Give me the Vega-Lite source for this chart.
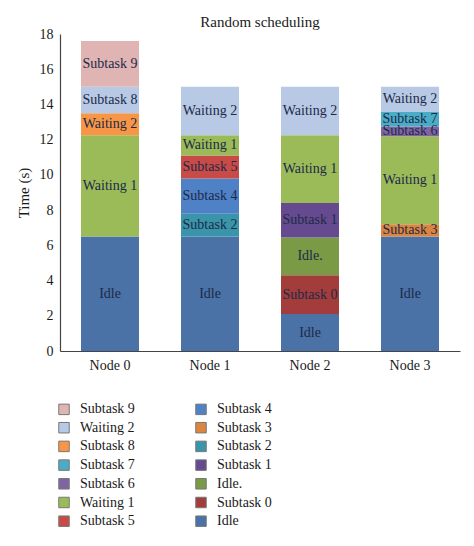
{
  "$schema": "https://vega.github.io/schema/vega-lite/v6.json",
  "autosize": {"type": "none"},
  "padding": {"left": 60, "top": 34, "right": 14, "bottom": 195},
  "width": 400,
  "height": 317,
  "background": "white",
  "title": {"text": "Random scheduling", "font": "Liberation Serif", "fontSize": 15, "fontWeight": "normal", "color": "#1a1a1a", "anchor": "middle", "offset": -3},
  "config": {
    "view": {"stroke": null},
    "font": "Liberation Serif",
    "axisY": {"labelOverlap": false, "labelFlush": false, "grid": false, "ticks": false, "labelPadding": 7, "labelFont": "Liberation Serif", "labelFontSize": 14, "labelColor": "#1a1a1a", "titleFont": "Liberation Serif", "titleFontSize": 15, "titleFontWeight": "normal", "titleColor": "#1a1a1a", "titlePadding": 8, "domainColor": "#444", "domainWidth": 1.2}
  },
  "data": {
    "values": [
      {"node": "Node 0", "series": "Idle", "label": "Idle", "value": 6.5, "order": 1},
      {"node": "Node 0", "series": "Waiting 1", "label": "Waiting 1", "value": 5.75, "order": 2},
      {"node": "Node 0", "series": "Subtask 8", "label": "Waiting 2", "value": 1.25, "order": 3},
      {"node": "Node 0", "series": "Waiting 2", "label": "Subtask 8", "value": 1.5, "order": 4},
      {"node": "Node 0", "series": "Subtask 9", "label": "Subtask 9", "value": 2.6, "order": 5},
      {"node": "Node 1", "series": "Idle", "label": "Idle", "value": 6.5, "order": 1},
      {"node": "Node 1", "series": "Subtask 2", "label": "Subtask 2", "value": 1.3, "order": 2},
      {"node": "Node 1", "series": "Subtask 4", "label": "Subtask 4", "value": 2.0, "order": 3},
      {"node": "Node 1", "series": "Subtask 5", "label": "Subtask 5", "value": 1.3, "order": 4},
      {"node": "Node 1", "series": "Waiting 1", "label": "Waiting 1", "value": 1.15, "order": 5},
      {"node": "Node 1", "series": "Waiting 2", "label": "Waiting 2", "value": 2.75, "order": 6},
      {"node": "Node 2", "series": "Idle", "label": "Idle", "value": 2.1, "order": 1},
      {"node": "Node 2", "series": "Subtask 0", "label": "Subtask 0", "value": 2.2, "order": 2},
      {"node": "Node 2", "series": "Idle.", "label": "Idle.", "value": 2.15, "order": 3},
      {"node": "Node 2", "series": "Subtask 1", "label": "Subtask 1", "value": 1.95, "order": 4},
      {"node": "Node 2", "series": "Waiting 1", "label": "Waiting 1", "value": 3.85, "order": 5},
      {"node": "Node 2", "series": "Waiting 2", "label": "Waiting 2", "value": 2.75, "order": 6},
      {"node": "Node 3", "series": "Idle", "label": "Idle", "value": 6.5, "order": 1},
      {"node": "Node 3", "series": "Subtask 3", "label": "Subtask 3", "value": 0.7, "order": 2},
      {"node": "Node 3", "series": "Waiting 1", "label": "Waiting 1", "value": 5.0, "order": 3},
      {"node": "Node 3", "series": "Subtask 6", "label": "Subtask 6", "value": 0.55, "order": 4},
      {"node": "Node 3", "series": "Subtask 7", "label": "Subtask 7", "value": 0.85, "order": 5},
      {"node": "Node 3", "series": "Waiting 2", "label": "Waiting 2", "value": 1.4, "order": 6}
    ]
  },
  "transform": [
    {"stack": "value", "groupby": ["node"], "sort": [{"field": "order", "order": "ascending"}], "as": ["y0", "y1"]},
    {"calculate": "(datum.y0 + datum.y1) / 2", "as": "mid"}
  ],
  "encoding": {
    "x": {
      "field": "node", "type": "nominal", "sort": null,
      "scale": {"paddingInner": 0.42, "paddingOuter": 0.21},
      "axis": {"title": null, "labelAngle": 0, "labelFont": "Liberation Serif", "labelFontSize": 14, "labelColor": "#1a1a1a", "ticks": false, "labelPadding": 7, "domainColor": "#444", "domainWidth": 1.2}
    }
  },
  "layer": [
    {
      "mark": {"type": "bar"},
      "encoding": {
        "y": {
          "field": "y0", "type": "quantitative",
          "scale": {"domain": [0, 18], "nice": false},
          "axis": {"title": "Time (s)", "values": [0, 2, 4, 6, 8, 10, 12, 14, 16, 18]}
        },
        "y2": {"field": "y1"},
        "color": {
          "field": "series", "type": "nominal",
          "scale": {
            "domain": ["Subtask 9", "Waiting 2", "Subtask 8", "Subtask 7", "Subtask 6", "Waiting 1", "Subtask 5", "Subtask 4", "Subtask 3", "Subtask 2", "Subtask 1", "Idle.", "Subtask 0", "Idle"],
            "range": ["#E0B4B3", "#B7C9E5", "#F79646", "#4BACC6", "#8064A2", "#9BBB59", "#C84B47", "#4F81C6", "#DB8540", "#3A95AA", "#664A8F", "#7A9A46", "#A23D3B", "#4A72A6"]
          },
          "legend": {
            "title": null, "orient": "none", "legendX": -3, "legendY": 368, "columns": 2, "direction": "vertical",
            "symbolType": "square", "symbolSize": 110, "symbolStrokeWidth": 1, "symbolStrokeColor": "#777",
            "labelFont": "Liberation Serif", "labelFontSize": 14, "labelColor": "#1a1a1a", "labelOffset": 9,
            "rowPadding": 2.7, "columnPadding": 58
          }
        },
        "order": {"field": "order"}
      }
    },
    {
      "mark": {"type": "text", "font": "Liberation Serif", "fontSize": 14, "color": "#1c2a48", "baseline": "middle"},
      "encoding": {
        "y": {"field": "mid", "type": "quantitative", "axis": {"title": "Time (s)", "values": [0, 2, 4, 6, 8, 10, 12, 14, 16, 18]}},
        "text": {"field": "label"}
      }
    }
  ]
}
